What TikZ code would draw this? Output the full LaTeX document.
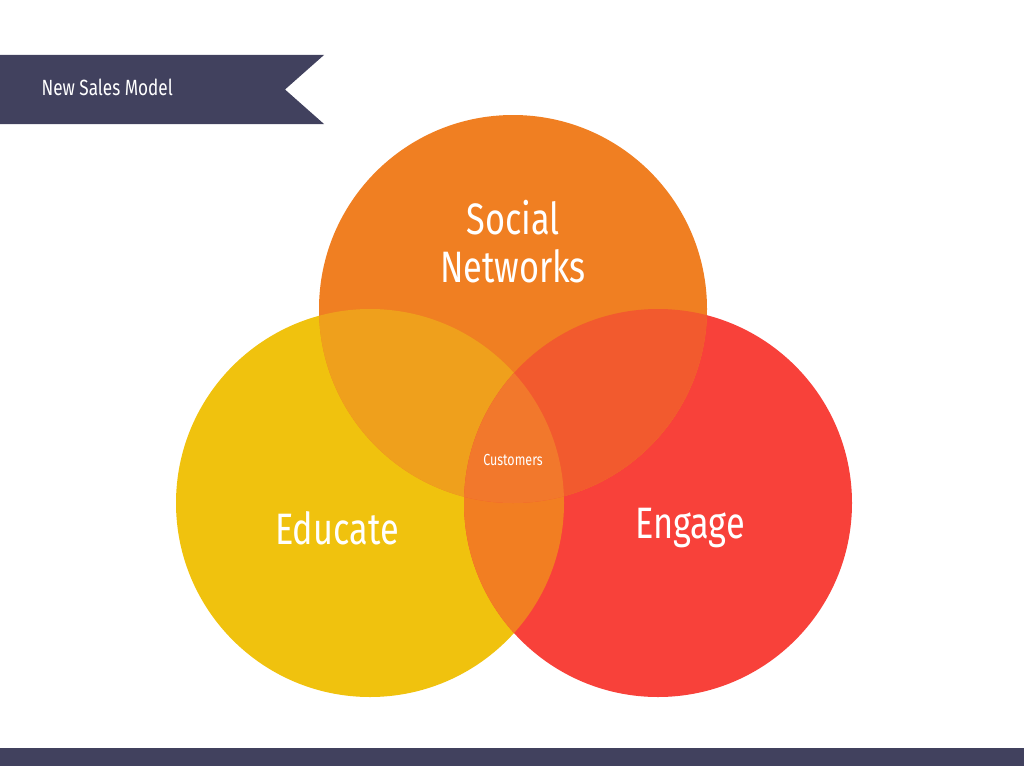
\documentclass[tikz,border=0pt]{standalone}
\usepackage{fontspec}
\setmainfont{Fira Sans}[FakeStretch=0.78]
\usetikzlibrary{positioning}
\definecolor{vennyellow}{HTML}{F0C20E}
\definecolor{vennred}{HTML}{F8413A}
\definecolor{vennorange}{HTML}{F07F22}
\definecolor{ovtopleft}{HTML}{EFA01C}
\definecolor{ovtopright}{HTML}{F25A2E}
\definecolor{ovbottom}{HTML}{F27E22}
\definecolor{ovcenter}{HTML}{F2782C}
\definecolor{slate}{HTML}{41415E}
\tikzset{venntext/.style={text=white, font=\fontsize{44}{52}\selectfont, align=center}}
\begin{document}
\begin{tikzpicture}[x=1pt, y=-1pt]
  \useasboundingbox (0,0) rectangle (1024,768);
  % Banner and footer
  \fill[slate] (0,55) -- (324,55) -- (285,89.5) -- (324,124) -- (0,124) -- cycle;
  \node[white, font=\fontsize{22}{26}\selectfont, anchor=west] (title) at (38,87) {New Sales Model};
  \fill[slate] (0,748) rectangle (1024,766);
  % Circles
  \fill[vennyellow] (370,503) circle (194);
  \fill[vennred] (658,503) circle (194);
  \fill[vennorange] (513,309) circle (194);
  % Overlaps
  \begin{scope}
    \clip (370,503) circle (194);
    \fill[ovtopleft] (513,309) circle (194);
    \fill[ovbottom] (658,503) circle (194);
  \end{scope}
  \begin{scope}
    \clip (658,503) circle (194);
    \fill[ovtopright] (513,309) circle (194);
    \clip (370,503) circle (194);
    \fill[ovcenter] (513,309) circle (194);
  \end{scope}
  % Labels
  \node[venntext] (social) at (513,242) {Social\\[-4pt]Networks};
  \node[venntext] (educate) at (337,528) {Educate};
  \node[venntext] (engage) at (690,528) {Engage};
  \node[text=white, font=\fontsize{16}{20}\selectfont] (customers) at (513,460) {Customers};
\end{tikzpicture}
\end{document}
